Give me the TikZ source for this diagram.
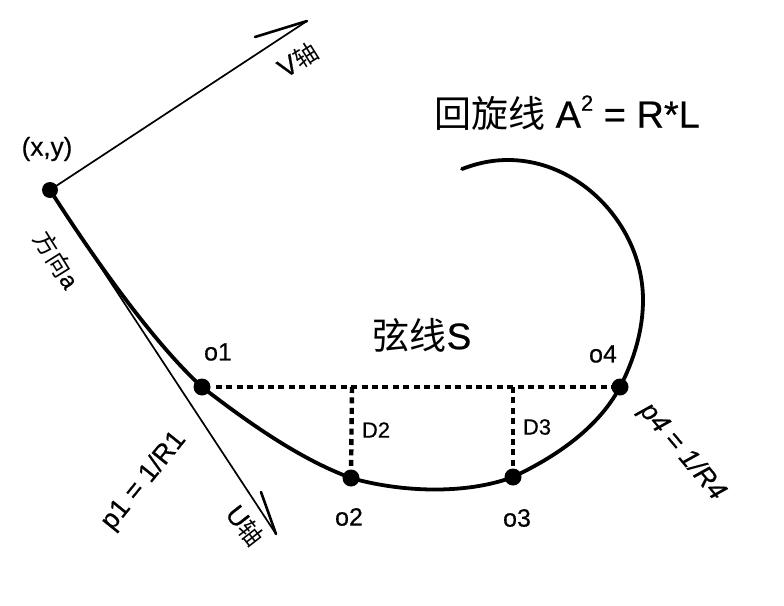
\documentclass[tikz,border=0pt]{standalone}
\usepackage{fontspec}
\setmainfont{Liberation Sans}[RawFeature={embolden=0.5}]
\newfontfamily\cjkf{Noto Sans CJK SC}
\newcommand{\fs}[1]{\fontsize{#1pt}{#1pt}\selectfont}
\tikzset{
  curve/.style={line width=3.8pt,black,line cap=round},
  axisline/.style={line width=1.7pt,black},
  barb/.style={line width=2.6pt,black,line cap=round},
  chord/.style={line width=4.4pt,black,dash pattern=on 6pt off 4.4pt},
  dot/.style={circle,fill=black,inner sep=0pt,minimum size=17pt},
  lab/.style={inner sep=0pt,font=\fs{25}},
  small/.style={inner sep=0pt,font=\fs{22}}
}
\begin{document}
\begin{tikzpicture}[x=1pt,y=-1pt]
\useasboundingbox (0,0) rectangle (784,605);
\coordinate (vtip) at (307,21);
\coordinate (vbarb) at (255,37);
\coordinate (utip) at (276,534);
\coordinate (ubarb) at (261,492);
\coordinate (cend) at (462,169);
\coordinate (ctop) at (508,160);
\coordinate (cright) at (643,300);
\coordinate (d2) at (352,387);
\coordinate (d3) at (513,387);
\node[dot,minimum size=16pt] (p0) at (50,190) {};
\node[dot] (o1) at (202,387) {};
\node[dot] (o2) at (351,478) {};
\node[dot] (o3) at (513,477) {};
\node[dot] (o4) at (620,387) {};
\draw[axisline] (p0.center) -- (vtip);
\draw[axisline] (p0.center) -- (utip);
\draw[barb] (vbarb) -- (vtip);
\draw[barb] (ubarb) -- (utip);
\draw[curve] (p0.center) .. controls (100,268) and (157,346) .. (o1.center)
  .. controls (250,424) and (300,459) .. (o2.center)
  .. controls (400,492) and (465,495) .. (o3.center)
  .. controls (553,458) and (597,430) .. (o4.center)
  .. controls (634,360) and (643,330) .. (cright)
  .. controls (643,227) and (581,160) .. (ctop)
  .. controls (490,160) and (475,164) .. (cend);
\draw[chord] (o1.center) ++(14,0) -- (o4.center);
\draw[chord] (d2) -- (o2.center);
\draw[chord] (d3) -- (o3.center);
\node[inner sep=0pt,font=\fs{26}] (xy) at (47,149) {(x,y)};
\node[inner sep=0pt,rotate=32,font=\fs{27}] (vl) at (298,60) {V{\cjkf\fs{24}轴}};
\node[inner sep=0pt,rotate=-52,font=\fs{27}] (ul) at (245,526) {U{\cjkf\fs{24}轴}};
\node[inner sep=0pt,rotate=-58,font=\fs{24}] (dir) at (57,260) {{\cjkf 方向}a};
\node[lab] (l1) at (218,352) {o1};
\node[lab] (l2) at (349,517) {o2};
\node[lab] (l3) at (517,518) {o3};
\node[lab] (l4) at (603,354) {o4};
\node[small] (ld2) at (376,430) {D2};
\node[small] (ld3) at (537,427) {D3};
\node[inner sep=0pt,rotate=51,font=\fs{27}] (k1) at (144,481) {p1 = 1/R1};
\node[inner sep=0pt,rotate=-50,font=\fs{27}\itshape] (k4) at (682,452) {p4 = 1/R4};
\node[inner sep=0pt,font=\fs{38}] (title) at (567,113) {{\cjkf\fs{37}回旋线} A\raisebox{17pt}{\fs{22}2} = R*L};
\node[inner sep=0pt,font=\fs{37}] (chordl) at (422,335) {{\cjkf 弦线}S};
\end{tikzpicture}
\end{document}
